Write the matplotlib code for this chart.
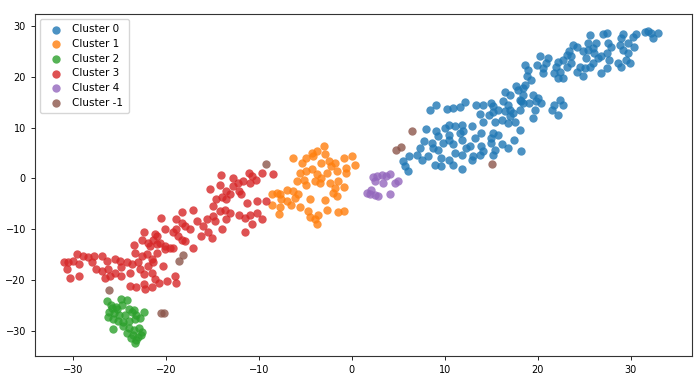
import numpy as np
import matplotlib
matplotlib.use("Agg")
from matplotlib import pyplot as plt

# cluster points (x, y)
cluster_0 = [
    (9.1, 14.5), (8.4, 13.5), (10.2, 13.7), (10.9, 13.9), (11.6, 14.1), (12.2, 15.0),
    (13.4, 14.5), (14.1, 14.5), (15.0, 14.8), (15.2, 14.3), (13.8, 12.7), (14.7, 12.5),
    (15.2, 13.0), (15.7, 13.4), (16.3, 15.2), (16.8, 14.5), (16.5, 13.2), (17.0, 12.2),
    (17.3, 12.9), (17.5, 11.2), (16.8, 10.9), (16.1, 11.6), (15.4, 11.2), (14.1, 11.2),
    (12.9, 10.3), (11.8, 10.6), (10.5, 10.6), (11.1, 10.3), (10.0, 9.9), (9.1, 9.3),
    (8.0, 9.7), (9.3, 8.3), (8.6, 7.0), (7.8, 7.3), (7.3, 6.0), (6.1, 4.5), (5.5, 3.4),
    (5.7, 2.4), (6.0, 1.4), (7.0, 4.7), (7.5, 3.7), (8.2, 4.4), (8.7, 6.0), (9.3, 5.7),
    (9.8, 7.0), (10.4, 7.6), (10.5, 8.6), (10.9, 6.7), (11.6, 9.0), (12.0, 9.3),
    (11.8, 7.6), (12.3, 6.0), (12.7, 6.3), (13.2, 8.0), (13.9, 9.0), (13.0, 4.4),
    (12.9, 3.7), (11.8, 4.7), (11.1, 5.0), (10.5, 3.7), (9.6, 4.1), (8.9, 2.7),
    (9.6, 2.4), (10.9, 2.7), (11.8, 1.8), (13.9, 6.3), (14.1, 5.4), (13.8, 4.7),
    (15.0, 8.0), (15.2, 9.0), (15.7, 8.6), (15.0, 7.0), (15.4, 5.7), (15.2, 4.7),
    (16.1, 6.7), (16.8, 6.0), (17.4, 7.6), (18.1, 9.6), (18.2, 5.4), (18.4, 16.5),
    (18.2, 15.2), (19.1, 14.8), (19.5, 16.5), (19.7, 13.5), (20.4, 14.8), (20.0, 15.8),
    (17.0, 16.5), (16.5, 17.1), (19.5, 11.9), (18.1, 13.5),
    (25.6, 28.2), (27.0, 28.4), (27.4, 28.7), (29.2, 28.4), (30.6, 28.4), (30.2, 27.9),
    (31.5, 28.9), (31.9, 29.1), (32.2, 28.7), (32.9, 28.7), (32.4, 27.6), (30.4, 25.9),
    (29.7, 26.6), (29.0, 27.6), (28.8, 26.3), (29.2, 25.3), (29.7, 24.6), (29.5, 23.3),
    (28.6, 22.7), (29.0, 22.0), (29.9, 22.7), (27.9, 25.9), (27.6, 26.6), (27.4, 24.6),
    (27.7, 23.3), (27.4, 21.7), (26.8, 20.7), (26.3, 26.6), (25.4, 26.6), (25.4, 25.3),
    (24.9, 25.0), (25.9, 25.6), (26.1, 24.6), (26.5, 23.7), (26.8, 24.1), (25.9, 22.7),
    (25.2, 23.7), (25.6, 22.0), (25.1, 21.7), (24.5, 22.0), (24.2, 21.0), (24.9, 20.1),
    (23.8, 26.3), (24.2, 25.9), (23.4, 25.0), (23.1, 24.3), (23.6, 24.0), (22.7, 23.3),
    (23.1, 22.0), (23.6, 22.7), (22.2, 23.0), (22.0, 22.0), (22.4, 21.0), (21.8, 20.7),
    (22.2, 19.7), (22.7, 19.7), (21.1, 23.7), (20.9, 22.7), (20.6, 21.7), (20.2, 24.0),
    (19.9, 22.4), (20.6, 20.7), (18.6, 22.4), (19.0, 21.4), (18.8, 20.1), (19.3, 19.4),
    (18.6, 18.4), (17.7, 18.1), (17.9, 17.5), (18.4, 17.8), (18.1, 15.5), (18.4, 14.8),
    (19.8, 15.2), (17.0, 13.5), (22.4, 15.5), (21.8, 14.5), (22.7, 14.5), (21.5, 13.5),
    (22.2, 12.5),
]

cluster_1 = [
    (-6.3, 4.1), (-5.4, 3.1), (-4.9, 4.1), (-4.3, 5.0), (-3.8, 5.5), (-4.2, 4.4),
    (-3.0, 6.3), (-2.9, 4.9), (-3.3, 3.1), (-2.5, 3.4), (-2.2, 2.4), (-1.8, 3.1),
    (-1.6, 1.4), (-0.9, 4.1), (0.0, 4.5), (-0.6, 2.1), (0.3, 2.7), (-5.6, 1.1),
    (-4.9, 1.4), (-4.3, 1.8), (-3.8, 0.8), (-3.3, 0.1), (-2.7, 1.1), (-5.9, -0.5),
    (-5.2, -0.2), (-4.0, -0.5), (-3.4, -0.8), (-2.4, -0.8), (-1.5, -0.5), (-1.8, -1.8),
    (-0.8, -1.6), (-2.0, -2.8), (-1.6, -3.5), (-8.6, -3.1), (-8.1, -2.8), (-7.7, -3.1),
    (-7.0, -2.2), (-6.3, -2.5), (-5.8, -3.1), (-6.1, -3.8), (-7.6, -4.1), (-7.0, -4.5),
    (-6.5, -5.3), (-8.6, -5.3), (-7.7, -5.7), (-7.8, -6.9), (-5.6, -5.7), (-4.7, -6.4),
    (-4.5, -7.5), (-4.0, -8.0), (-3.8, -8.9), (-3.6, -7.1), (-2.7, -6.1), (-2.9, -4.3),
    (-1.5, -6.6), (-0.9, -6.4), (-4.5, -4.1), (-4.9, -1.2), (-0.6, 1.1),
]

cluster_2 = [
    (-26.3, -24.1), (-24.8, -23.7), (-24.2, -23.9), (-25.9, -24.9), (-25.4, -25.3),
    (-24.7, -24.9), (-24.0, -25.6), (-23.4, -25.9), (-26.1, -26.2), (-25.6, -26.5),
    (-25.1, -26.8), (-24.4, -26.8), (-23.7, -26.3), (-23.2, -26.8), (-22.4, -26.3),
    (-26.2, -27.3), (-25.7, -27.6), (-25.2, -28.0), (-24.6, -28.3), (-24.0, -28.0),
    (-23.3, -27.6), (-22.8, -27.5), (-25.7, -29.6), (-24.0, -29.4), (-23.4, -29.8),
    (-22.9, -29.4), (-22.6, -30.1), (-24.2, -30.4), (-23.6, -30.8), (-23.0, -31.1),
    (-23.8, -31.4), (-23.2, -31.7), (-22.7, -30.7), (-23.3, -32.4), (-24.6, -29.0),
    (-25.3, -25.7), (-25.8, -25.5),
]

cluster_3 = [
    (-14.1, 0.7), (-12.8, 0.1), (-11.1, 1.1), (-10.8, 0.5), (-10.3, -0.3), (-9.7, 1.0),
    (-8.5, 0.8), (-11.0, -0.8), (-11.7, -0.5), (-12.3, -0.8), (-12.8, -1.5), (-14.2, -1.2),
    (-15.3, -2.0), (-13.5, -2.5), (-13.1, -3.1), (-12.2, -2.5), (-11.9, -3.1), (-11.3, -4.9),
    (-10.2, -4.5), (-9.2, -4.5), (-13.5, -4.1), (-14.0, -3.6), (-14.6, -4.0), (-14.9, -5.4),
    (-13.7, -6.1), (-13.1, -6.7), (-14.2, -6.4), (-14.9, -7.4), (-13.5, -8.0), (-12.2, -7.1),
    (-11.5, -7.7), (-11.0, -7.1), (-10.2, -6.7), (-9.7, -8.0), (-10.8, -9.0), (-11.5, -10.6),
    (-14.0, -10.0), (-14.7, -8.4), (-15.6, -8.0), (-16.0, -9.4), (-16.7, -8.4), (-17.1, -6.1),
    (-18.3, -6.6), (-18.9, -8.0), (-18.3, -8.7), (-18.0, -9.4), (-17.4, -10.0), (-18.9, -10.0),
    (-19.2, -10.6), (-18.7, -11.3), (-20.5, -7.7), (-20.1, -10.0), (-21.0, -11.3),
    (-21.4, -12.0), (-20.6, -12.6), (-20.1, -13.3), (-19.2, -13.6), (-18.0, -12.3),
    (-17.1, -13.6), (-16.2, -11.3), (-15.5, -10.6), (-15.1, -11.8), (-21.7, -13.3),
    (-21.0, -14.6), (-20.1, -13.9),
    (-22.4, -10.6), (-21.2, -11.0), (-18.3, -12.0), (-23.5, -13.1), (-22.6, -12.1),
    (-21.9, -12.6), (-21.0, -12.9), (-19.6, -13.6), (-23.3, -14.6), (-22.6, -15.2),
    (-22.1, -14.9), (-21.5, -15.9), (-21.9, -17.2), (-21.4, -16.5), (-23.0, -16.5),
    (-23.7, -16.9), (-24.2, -16.5), (-23.9, -18.5), (-22.8, -17.8), (-22.4, -18.8),
    (-21.5, -18.5), (-21.2, -19.8), (-20.8, -20.5), (-20.3, -17.2), (-19.9, -20.1),
    (-19.0, -19.2), (-18.9, -20.5), (-23.9, -21.1), (-23.2, -21.4), (-22.4, -20.8),
    (-22.3, -21.8), (-21.5, -21.4), (-25.5, -15.9), (-24.9, -16.2), (-24.8, -17.5),
    (-25.5, -18.5), (-26.2, -17.8), (-26.0, -19.2), (-26.6, -19.5), (-26.9, -18.2),
    (-27.5, -17.8), (-27.8, -15.2), (-26.9, -15.2), (-26.4, -16.2), (-28.0, -16.5),
    (-28.4, -15.5), (-28.9, -15.2), (-29.6, -14.9), (-30.0, -16.2), (-29.4, -16.9),
    (-30.5, -16.5), (-31.0, -16.5), (-30.7, -17.8), (-30.3, -19.5), (-29.4, -19.2),
    (-24.8, -19.2),
]

cluster_4 = [
    (2.3, 0.3), (2.7, 0.5), (3.2, 0.6), (3.7, 0.5), (4.1, 0.9), (2.5, -0.5), (3.4, -0.8),
    (4.6, -0.8), (5.0, -0.4), (1.6, -2.8), (2.1, -2.2), (2.5, -3.3), (2.8, -3.5),
    (4.1, -3.1), (1.9, -3.0),
]

cluster_noise = [
    (-9.2, 2.8), (-18.6, -16.2), (-18.2, -15.1), (-26.1, -22.0), (-20.5, -26.5),
    (-20.2, -26.5), (6.5, 9.3), (5.3, 6.2), (4.7, 5.7), (15.1, 2.9),
]

clusters = [cluster_0, cluster_1, cluster_2, cluster_3, cluster_4, cluster_noise]
labels = ['Cluster 0', 'Cluster 1', 'Cluster 2', 'Cluster 3', 'Cluster 4', 'Cluster -1']
colors = ['#1f77b4', '#ff7f0e', '#2ca02c', '#d62728', '#9467bd', '#8c564b']

fig = plt.figure(figsize=(7, 3.89), dpi=100)
ax = fig.add_axes([0.05, 0.085, 0.9386, 0.879])

for pts, lab, col in zip(clusters, labels, colors):
    pts = np.array(pts)
    ax.scatter(pts[:, 0], pts[:, 1], s=36, c=col, alpha=0.8, linewidths=0, label=lab)

ax.set_xlim(-34.1, 36.6)
ax.set_ylim(-34.9, 32.35)
ax.set_xticks([-30, -20, -10, 0, 10, 20, 30])
ax.set_yticks([-30, -20, -10, 0, 10, 20, 30])
ax.tick_params(labelsize=7, length=3, width=0.6)
for sp in ax.spines.values():
    sp.set_linewidth(0.8)
    sp.set_color('#333333')

ax.legend(loc='upper left', fontsize=7.5, handletextpad=0.6, borderpad=0.5,
          labelspacing=0.45, framealpha=0.8)

plt.savefig('out.png', dpi=100)
